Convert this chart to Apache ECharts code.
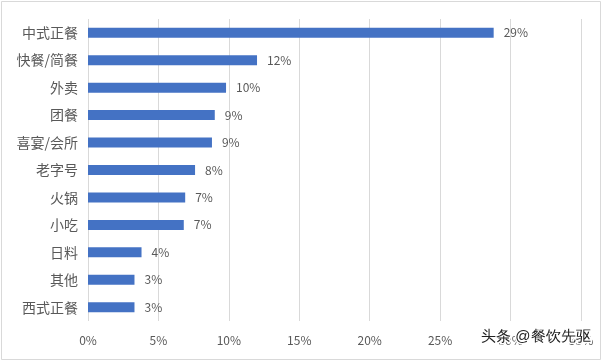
<!DOCTYPE html>
<html><head><meta charset="utf-8">
<script src="https://cdn.jsdelivr.net/npm/echarts@6/dist/echarts.min.js"></script>
<style>html,body{margin:0;padding:0;background:#fff}#c{width:604px;height:362px}</style>
</head><body><div id="c"></div>
<script>
const categories = ['中式正餐','快餐/简餐','外卖','团餐','喜宴/会所','老字号','火锅','小吃','日料','其他','西式正餐'];
const values = [28.8, 12.0, 9.8, 9.0, 8.8, 7.6, 6.9, 6.8, 3.8, 3.3, 3.3];
const xTicks = [0, 5, 10, 15, 20, 25, 30, 35];
const watermark = '头条 @餐饮先驱';

const chart = echarts.init(document.getElementById('c'), null, {renderer:'canvas'});
const font = '"Noto Sans CJK SC", "Noto Sans", sans-serif';
chart.setOption({
  animation: false,
  backgroundColor: '#fff',
  textStyle: {fontFamily: font},
  grid: {left: 88, right: 23, top: 19, bottom: 41, containLabel: false},
  xAxis: {
    type: 'value', min: xTicks[0], max: xTicks[xTicks.length-1], interval: 5,
    axisLine: {show: false}, axisTick: {show: false},
    axisLabel: {formatter: v => v + '%', color: '#595959', fontSize: 12, margin: 13, fontFamily: font},
    splitLine: {lineStyle: {color: '#d9d9d9', width: 1}}
  },
  yAxis: {
    type: 'category', data: categories, inverse: true,
    axisLine: {show: false}, axisTick: {show: false},
    axisLabel: {color: '#595959', fontSize: 14, margin: 10, fontFamily: font}
  },
  series: [{
    type: 'bar', data: values, barWidth: 10,
    itemStyle: {color: '#4472C4'},
    label: {show: true, position: 'right', distance: 10, color: '#595959', fontSize: 12,
      fontFamily: font, formatter: p => Math.round(p.value) + '%'}
  }],
  graphic: [
    {type: 'rect', shape: {x: 1.5, y: 1.5, width: 599, height: 358}, style: {fill: 'none', stroke: '#d9d9d9', lineWidth: 1}, silent: true},
    {type: 'text', right: 12, bottom: 16, style: {text: watermark, fontSize: 15, fill: '#222', stroke: '#fff', lineWidth: 3, font: '15px ' + font}, z: 100}
  ]
});
</script></body></html>
